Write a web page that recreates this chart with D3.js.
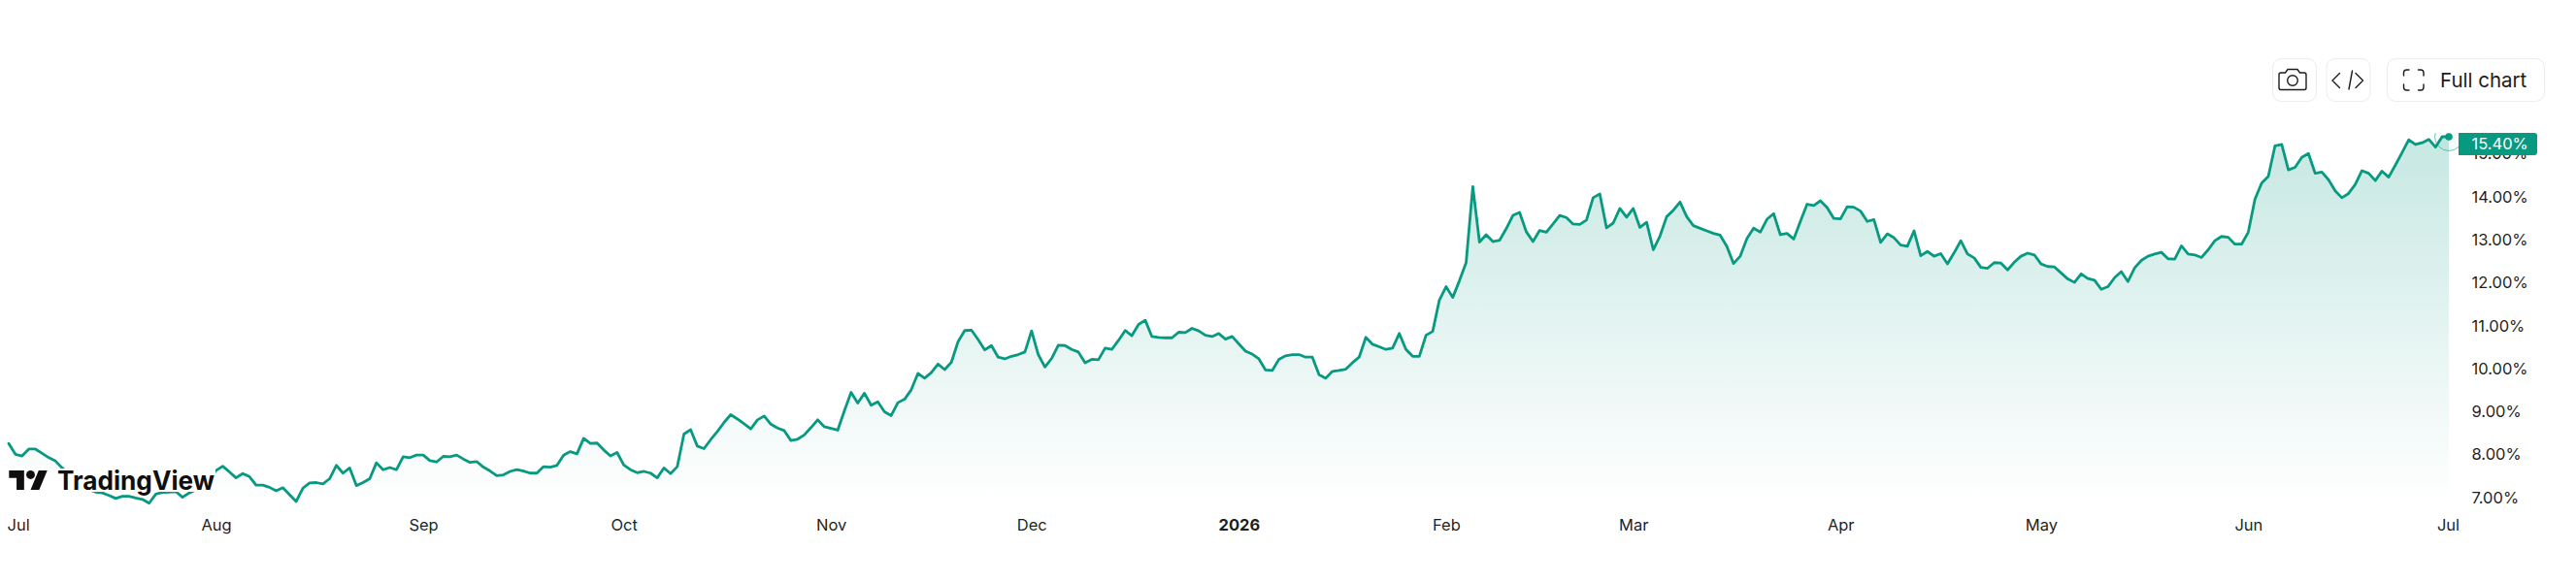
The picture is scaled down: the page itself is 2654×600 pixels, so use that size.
<!DOCTYPE html>
<html>
<head>
<meta charset="utf-8">
<title>Yield</title>
<script src="https://cdn.jsdelivr.net/npm/d3@7/dist/d3.min.js"></script>
<style>
  html, body { margin: 0; padding: 0; background: #fff; }
  svg { display: block; }
  text { font-family: Inter, "Noto Sans", sans-serif; }
  .axis text { font-size: 16.5px; fill: #1f1f1f; }
  .axis .domain, .axis line { display: none; }
</style>
</head>
<body>
<svg id="chart" width="2654" height="600"></svg>
<script>
// Daily closing values in percent, one array per quarter, starting 1 Jul 2025.
const q3Values = [
  8.26, 8.01, 7.97, 8.13, 8.13, 8.03, 7.93, 7.85, 7.69, 7.56, 7.41, 7.28, 7.18, 7.13, 7.11, 7.05,
  6.98, 7.03, 7.03, 6.99, 6.96, 6.87, 7.08, 7.12, 7.13, 7.14, 7.01, 7.11, 7.18, 7.28, 7.44, 7.63,
  7.73, 7.60, 7.46, 7.56, 7.49, 7.29, 7.29, 7.24, 7.16, 7.23, 7.07, 6.91, 7.22, 7.34, 7.35, 7.32,
  7.44, 7.75, 7.57, 7.69, 7.28, 7.35, 7.44, 7.81, 7.65, 7.70, 7.65, 7.95, 7.93, 7.99,
  7.99, 7.86, 7.83, 7.96, 7.95, 7.99, 7.90, 7.82, 7.84, 7.71, 7.62, 7.51, 7.53, 7.61, 7.65, 7.62,
  7.57, 7.57, 7.72, 7.71, 7.75, 7.99, 8.07, 8.02, 8.38, 8.26, 8.27, 8.11, 7.97, 8.05
];
const q4Values = [
  7.76, 7.65, 7.58, 7.61, 7.57, 7.46, 7.69, 7.56, 7.72, 8.48, 8.58, 8.20, 8.14, 8.35, 8.54, 8.75,
  8.93, 8.83, 8.72, 8.60, 8.81, 8.90, 8.71, 8.62, 8.56, 8.33, 8.36, 8.46, 8.63, 8.81, 8.65, 8.61,
  8.57, 9.02, 9.45, 9.20, 9.43, 9.15, 9.23, 9.00, 8.91, 9.21, 9.29, 9.51, 9.89, 9.78, 9.91, 10.11,
  9.98, 10.15, 10.63, 10.89, 10.90, 10.68, 10.44, 10.54, 10.27, 10.23, 10.29, 10.33, 10.39, 10.88,
  10.33, 10.04, 10.24, 10.55, 10.54, 10.45, 10.39, 10.14, 10.22, 10.21, 10.48, 10.45, 10.66, 10.89,
  10.77, 11.03, 11.13, 10.75, 10.73, 10.72, 10.72, 10.85, 10.84, 10.94, 10.88, 10.78, 10.75, 10.82,
  10.69, 10.75
];
const q1Values = [
  10.58, 10.41, 10.34, 10.23, 9.97, 9.96, 10.22, 10.30, 10.33, 10.33, 10.27, 10.27, 9.86, 9.78, 9.94, 9.96,
  9.99, 10.14, 10.27, 10.73, 10.57, 10.51, 10.45, 10.48, 10.82, 10.45, 10.29, 10.29, 10.78, 10.87, 11.60,
  11.91, 11.66, 12.05, 12.47, 14.24, 12.95, 13.12, 12.96, 12.99, 13.26, 13.57, 13.64, 13.19, 12.96, 13.22,
  13.18, 13.37, 13.57, 13.52, 13.37, 13.36, 13.46, 13.98, 14.07, 13.28, 13.39, 13.73, 13.53, 13.73, 13.29,
  13.41, 12.77, 13.09, 13.54, 13.69, 13.88, 13.54, 13.33, 13.27, 13.21, 13.15, 13.11, 12.85, 12.45, 12.62,
  13.03, 13.27, 13.18, 13.48, 13.61, 13.12, 13.15, 13.02, 13.43, 13.83, 13.80, 13.91, 13.75, 13.50
];
const q2Values = [
  13.49, 13.77, 13.76, 13.67, 13.43, 13.47, 12.94, 13.14, 13.05, 12.88, 12.85, 13.21, 12.63, 12.73, 12.62,
  12.68, 12.44, 12.70, 12.98, 12.67, 12.58, 12.36, 12.34, 12.47, 12.46, 12.30, 12.48, 12.62, 12.69, 12.65,
  12.44, 12.38, 12.37, 12.23, 12.09, 12.01, 12.21, 12.10, 12.06, 11.85, 11.91, 12.12, 12.26, 12.03, 12.35,
  12.52, 12.62, 12.67, 12.71, 12.56, 12.55, 12.86, 12.67, 12.65, 12.59, 12.77, 12.98, 13.08, 13.06, 12.90,
  12.90, 13.18, 13.95, 14.32, 14.48, 15.19, 15.22, 14.63, 14.69, 14.92, 15.01, 14.55, 14.58, 14.40, 14.14,
  13.98, 14.08, 14.29, 14.61, 14.55, 14.38, 14.60, 14.46, 14.74, 15.03, 15.33, 15.22, 15.26, 15.34, 15.16,
  15.40, 15.40
];

const startDate = new Date(Date.UTC(2025, 6, 1));
const lastValueLabel = "15.40%";
const yTicks = [7, 8, 9, 10, 11, 12, 13, 14, 15];
const monthTicks = [
  ["2025-07-01", "Jul"], ["2025-08-01", "Aug"], ["2025-09-01", "Sep"], ["2025-10-01", "Oct"],
  ["2025-11-01", "Nov"], ["2025-12-01", "Dec"], ["2026-01-01", "2026"], ["2026-02-01", "Feb"],
  ["2026-03-01", "Mar"], ["2026-04-01", "Apr"], ["2026-05-01", "May"], ["2026-06-01", "Jun"],
  ["2026-07-01", "Jul"]
];

const GREEN = "#089981";
const values = [...q3Values, ...q4Values, ...q1Values, ...q2Values];
const series = values.map((v, i) => ({ date: d3.utcDay.offset(startDate, i), value: v }));

const svg = d3.select("#chart");
const paneTop = 137, paneBottom = 517;

const x = d3.scaleUtc()
  .domain([startDate, series[series.length - 1].date])
  .range([9, 2523]);
const y = d3.scaleLinear().domain([7, 15.4]).range([513, 141]);

const defs = svg.append("defs");
const grad = defs.append("linearGradient")
  .attr("id", "areaFade")
  .attr("gradientUnits", "userSpaceOnUse")
  .attr("x1", 0).attr("x2", 0).attr("y1", 137).attr("y2", paneBottom);
grad.append("stop").attr("offset", 0).attr("stop-color", GREEN).attr("stop-opacity", 0.23);
grad.append("stop").attr("offset", 1).attr("stop-color", GREEN).attr("stop-opacity", 0);

defs.append("clipPath").attr("id", "pane")
  .append("rect").attr("x", 0).attr("y", paneTop).attr("width", 2654).attr("height", paneBottom - paneTop);

// Area and line
svg.append("path").datum(series)
  .attr("fill", "url(#areaFade)")
  .attr("d", d3.area().x(d => x(d.date)).y0(paneBottom).y1(d => y(d.value)));

svg.append("path").datum(series)
  .attr("fill", "none")
  .attr("stroke", GREEN)
  .attr("stroke-width", 2.8)
  .attr("stroke-linejoin", "round")
  .attr("stroke-linecap", "round")
  .attr("d", d3.line().x(d => x(d.date)).y(d => y(d.value)));

// Axes
const yAxis = svg.append("g").attr("class", "axis")
  .attr("transform", "translate(2546.5,0)")
  .call(d3.axisRight(y).tickValues(yTicks).tickSize(0).tickPadding(0).tickFormat(d => d.toFixed(2) + "%"));

const monthDates = monthTicks.map(d => new Date(d[0] + "T00:00:00Z"));
const monthNames = new Map(monthTicks.map((d, i) => [+monthDates[i], d[1]]));
const xAxis = svg.append("g").attr("class", "axis")
  .attr("transform", "translate(0,535.5)")
  .call(d3.axisBottom(x).tickValues(monthDates).tickSize(0).tickPadding(0).tickFormat(d => monthNames.get(+d)));
xAxis.selectAll("text")
  .attr("font-weight", d => monthNames.get(+d) === "2026" ? 700 : 400)
  .style("font-weight", d => monthNames.get(+d) === "2026" ? 700 : 400);
xAxis.select(".tick text").attr("text-anchor", "start").attr("x", -2);
xAxis.selectAll(".tick:last-of-type text").attr("x", -1);

// Last-value marker: pulse ring, dot and price tag
const last = series[series.length - 1];
svg.append("circle")
  .attr("clip-path", "url(#pane)")
  .attr("cx", x(last.date)).attr("cy", y(last.value)).attr("r", 14.5)
  .attr("fill", GREEN).attr("fill-opacity", 0.04)
  .attr("stroke", GREEN).attr("stroke-opacity", 0.55).attr("stroke-width", 1);
svg.append("circle")
  .attr("cx", x(last.date)).attr("cy", y(last.value)).attr("r", 3.8)
  .attr("fill", GREEN);

svg.append("path")
  .attr("fill", GREEN)
  .attr("d", "M2533 137H2611a3 3 0 0 1 3 3V157a3 3 0 0 1 -3 3H2533Z");
svg.append("text")
  .attr("x", 2546.5).attr("y", 148.5).attr("dy", "0.35em")
  .attr("font-size", 16.5).attr("fill", "#fff")
  .text(lastValueLabel);

// Watermark with its white backing
svg.append("rect").attr("x", 9).attr("y", 483).attr("width", 213).attr("height", 24).attr("fill", "#fff");
const logo = svg.append("g").attr("fill", "#0f0f0f");
logo.append("g").attr("transform", "translate(9.3,480.6) scale(1.11)").call(g => {
  g.append("path").attr("d", "M14 22H7V11H0V4h14v18zM28 22h-8l7.5-18h8L28 22z");
  g.append("circle").attr("cx", 20).attr("cy", 8).attr("r", 4);
});
logo.append("text")
  .attr("x", 59).attr("y", 505)
  .attr("font-size", 27).attr("font-weight", 700)
  .attr("textLength", 162).attr("lengthAdjust", "spacingAndGlyphs")
  .text("TradingView");

// Toolbar buttons
const buttons = [
  { x: 2341, w: 45 }, { x: 2396.5, w: 45 }, { x: 2459, w: 162 }
];
svg.append("g").selectAll("rect").data(buttons).join("rect")
  .attr("x", d => d.x + 0.5).attr("y", 60.5)
  .attr("width", d => d.w).attr("height", 44).attr("rx", 9)
  .attr("fill", "#fff").attr("stroke", "#ececec").attr("stroke-width", 1);

const icons = svg.append("g").attr("fill", "none").attr("stroke", "#1c1c1c")
  .attr("stroke-width", 1.4).attr("stroke-linecap", "round").attr("stroke-linejoin", "round");
// camera
icons.append("path").attr("d", "M2350 75H2354.5L2357 71.5H2367L2369.5 75H2374a2 2 0 0 1 2 2V90.5a2 2 0 0 1 -2 2H2350a2 2 0 0 1 -2 -2V77a2 2 0 0 1 2 -2Z");
icons.append("circle").attr("cx", 2362).attr("cy", 83).attr("r", 5.3);
// code brackets
icons.append("path").attr("d", "M2410.5 75.5L2403 83L2410.5 90.5M2420 92L2423.5 73M2427 75.5L2434.5 83L2427 90.5");
// fullscreen corners
icons.append("path").attr("d", "M2476.5 78V75a3 3 0 0 1 3 -3H2482M2491.5 72H2494a3 3 0 0 1 3 3V78M2497 87V90a3 3 0 0 1 -3 3H2491.5M2482 93H2479.5a3 3 0 0 1 -3 -3V87");
svg.append("text")
  .attr("x", 2514).attr("y", 82.5).attr("dy", "0.35em")
  .attr("font-size", 20.5).attr("fill", "#1c1c1c")
  .text("Full chart");
</script>
</body>
</html>
